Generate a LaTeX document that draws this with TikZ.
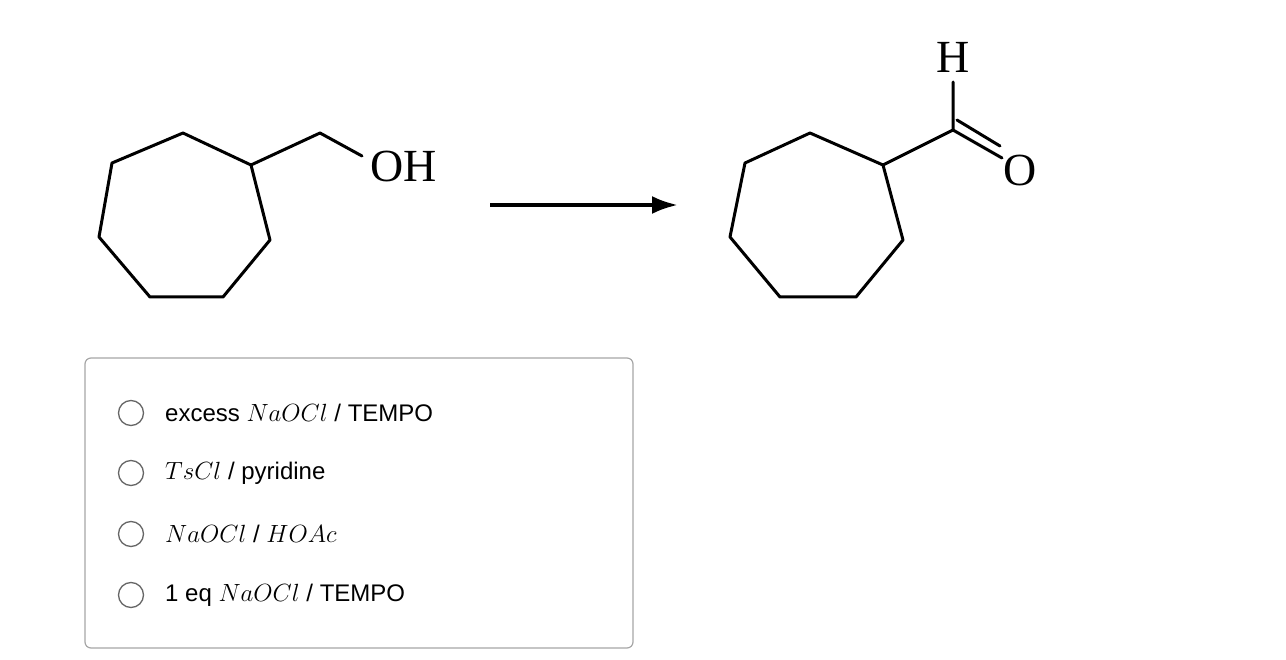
\documentclass[tikz,border=0pt]{standalone}
\usepackage[no-math]{fontspec}
\setmainfont{Liberation Sans}
\newfontfamily\chem{Liberation Serif}
\usetikzlibrary{arrows.meta}
\begin{document}
\begin{tikzpicture}[x=1pt,y=-1pt,
  bond/.style={line width=3pt,line join=round,line cap=round},
  atom/.style={font=\chem\fontsize{46}{46}\selectfont,inner sep=1pt},
  opt/.style={anchor=west,font=\fontsize{24}{26}\selectfont,inner sep=0pt},
  radio/.style={circle,draw=black!60,line width=1.3pt,minimum size=25pt,inner sep=0pt}]
\useasboundingbox (0,0) rectangle (1286,660);
% left molecule
\draw[bond] (183,133)--(251,165)--(270,240)--(223,297)--(150,297)--(99,237)--(112,163)--cycle;
\coordinate (c1) at (251,165);
\coordinate (c2) at (320,133);
\node[atom] (oh) at (404,166) {OH};
\draw[bond] (c1)--(c2)--(362,156);
% arrow
\coordinate (a1) at (490,205);
\coordinate (a2) at (678,205);
\draw[line width=4pt,-{Latex[length=26pt,width=18pt]}] (a1)--(a2);
% right molecule
\draw[bond] (810,133)--(883,165)--(903,240)--(856,297)--(780,297)--(730,237)--(745,163)--cycle;
\coordinate (r1) at (883,165);
\coordinate (ca) at (953,130);
\node[atom] (h) at (953,57) {H};
\node[atom] (o) at (1020,170) {O};
\draw[bond] (r1)--(ca)--(953,82);
\draw[bond] (ca)--(1002,158);
\draw[bond] (957,120)--(1000,146);
% box
\draw[draw=black!35,line width=1.2pt,rounded corners=6pt] (85,358) rectangle (633,648);
\foreach \y/\n in {413/r1b,473/r2b,534/r3b,595/r4b}{\node[radio] (\n) at (131,\y) {};}
\node[opt] (t1) at (165,413) {excess $NaOCl$ / TEMPO};
\node[opt] (t2) at (165,473) {$TsCl$ / pyridine};
\node[opt] (t3) at (165,534) {$NaOCl$ / $HOAc$};
\node[opt] (t4) at (165,595) {1 eq $NaOCl$ / TEMPO};
\end{tikzpicture}
\end{document}
